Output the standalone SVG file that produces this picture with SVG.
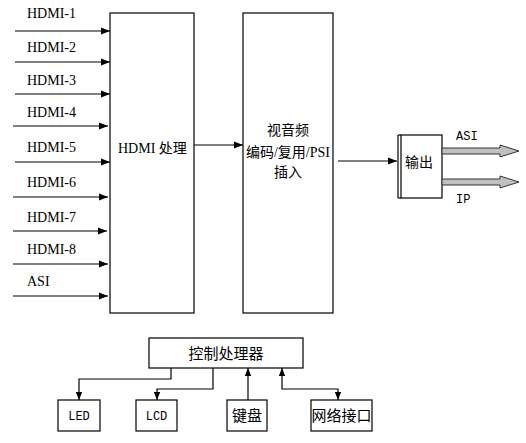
<svg xmlns="http://www.w3.org/2000/svg" width="526" height="443" viewBox="0 0 526 443">
<style>
.box{fill:#fff;stroke:#000;stroke-width:1.2}
.ln{fill:none;stroke:#000;stroke-width:1.2}
.t{font-family:"Liberation Serif","Noto Sans CJK SC",serif;font-size:14px;fill:#000}
.c{font-family:"Liberation Serif","Noto Sans CJK SC",serif;font-size:14px;fill:#000}
.m{font-family:"Liberation Mono","Noto Sans CJK SC",monospace;font-size:12px;fill:#000}
.blk{fill:#c0c0c0;stroke:#333;stroke-width:1}
</style>
<defs>
<marker id="ah" viewBox="0 0 10 10" refX="10" refY="5" markerWidth="9" markerHeight="9" markerUnits="userSpaceOnUse" orient="auto">
<path d="M0,1 L10,5 L0,9 Z" fill="#000"/>
</marker>
<marker id="ahs" viewBox="0 0 10 10" refX="10" refY="5" markerWidth="8" markerHeight="8" markerUnits="userSpaceOnUse" orient="auto-start-reverse">
<path d="M0,1 L10,5 L0,9 Z" fill="#000"/>
</marker>
</defs>
<rect width="526" height="443" fill="#fff"/>

<g id="labels-in">
<text class="t" x="27" y="18">HDMI-1</text>
<text class="t" x="27" y="52">HDMI-2</text>
<text class="t" x="27" y="85">HDMI-3</text>
<text class="t" x="27" y="117">HDMI-4</text>
<text class="t" x="27" y="152">HDMI-5</text>
<text class="t" x="27" y="187">HDMI-6</text>
<text class="t" x="27" y="222">HDMI-7</text>
<text class="t" x="27" y="254">HDMI-8</text>
<text class="t" x="27" y="286">ASI</text>
</g>

<g id="hdmi">
<rect class="box" x="110" y="13" width="84" height="300"/>
<text class="c" x="118" y="153">HDMI 处理</text>
</g>

<g id="encoder">
<rect class="box" x="243" y="13" width="90" height="300"/>
<text class="c" x="288" y="135" text-anchor="middle">视音频</text>
<text class="c" x="288" y="157" text-anchor="middle">编码/复用/PSI</text>
<text class="c" x="288" y="177" text-anchor="middle">插入</text>
</g>

<g id="output">
<rect class="box" x="401" y="135" width="41" height="63"/>
<line class="ln" x1="398" y1="135" x2="398" y2="198"/>
<line class="ln" x1="398" y1="135" x2="401" y2="135"/>
<line class="ln" x1="398" y1="198" x2="401" y2="198"/>
<text class="c" x="405" y="167">输出</text>
</g>

<g id="control">
<rect class="box" x="149" y="338" width="154" height="30"/>
<text class="c" x="226" y="359" text-anchor="middle" style="font-size:15px">控制处理器</text>
</g>

<g id="led">
<rect class="box" x="58" y="400" width="42" height="31"/>
<text class="m" x="79" y="420" text-anchor="middle">LED</text>
</g>
<g id="lcd">
<rect class="box" x="136" y="400" width="41" height="31"/>
<text class="m" x="156.5" y="420" text-anchor="middle">LCD</text>
</g>
<g id="keyboard">
<rect class="box" x="227" y="400" width="40" height="31"/>
<text class="c" x="247" y="421" text-anchor="middle" style="font-size:15px">键盘</text>
</g>
<g id="network">
<rect class="box" x="311" y="400" width="61" height="31"/>
<text class="c" x="341.5" y="421" text-anchor="middle" style="font-size:15px">网络接口</text>
</g>

<g id="connectors">
<line class="ln" x1="15" y1="31" x2="110" y2="31" marker-end="url(#ah)"/>
<line class="ln" x1="15" y1="62" x2="110" y2="62" marker-end="url(#ah)"/>
<line class="ln" x1="15" y1="94" x2="110" y2="94" marker-end="url(#ah)"/>
<line class="ln" x1="13" y1="126" x2="108" y2="126" marker-end="url(#ah)"/>
<line class="ln" x1="15" y1="162" x2="110" y2="162" marker-end="url(#ah)"/>
<line class="ln" x1="13" y1="197" x2="108" y2="197" marker-end="url(#ah)"/>
<line class="ln" x1="13" y1="231" x2="107" y2="231" marker-end="url(#ah)"/>
<line class="ln" x1="13" y1="264" x2="108" y2="264" marker-end="url(#ah)"/>
<line class="ln" x1="13" y1="296" x2="108" y2="296" marker-end="url(#ah)"/>
<line class="ln" x1="194" y1="145" x2="243" y2="145" marker-end="url(#ah)"/>
<line class="ln" x1="338" y1="161" x2="397" y2="161" marker-end="url(#ah)"/>
<polygon class="blk" points="442,148 500,148 500,145 519,151 500,157 500,154 442,154"/>
<polygon class="blk" points="442,179 500,179 500,176 519,182 500,188 500,185 442,185"/>
<text class="m" x="456" y="140">ASI</text>
<text class="m" x="456" y="203">IP</text>
<polyline class="ln" points="171,368 171,379 79,379 79,400" marker-end="url(#ahs)"/>
<polyline class="ln" points="213,368 213,389 157,389 157,400" marker-end="url(#ahs)"/>
<line class="ln" x1="248" y1="400" x2="248" y2="368" marker-end="url(#ahs)"/>
<polyline class="ln" points="282,368 282,389 338,389 338,400" marker-start="url(#ahs)" marker-end="url(#ahs)"/>
</g>
</svg>
